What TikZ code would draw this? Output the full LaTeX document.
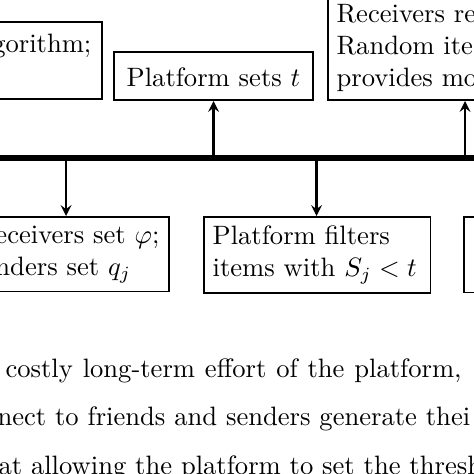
\documentclass[tikz,border=0pt]{standalone}
\usepackage{amsfonts, amssymb, amsmath}
\usepackage{tikz}
\usetikzlibrary{shapes.geometric, arrows}
\tikzstyle{event} = [rectangle, draw = black, semithick, align = left]
\tikzstyle{arrow} = [thick, ->, >=stealth]
\tikzstyle{timeline} = [line width = 2.2pt]
\tikzstyle{body} = [anchor = base west, inner sep = 0pt]

\begin{document}
\begin{tikzpicture}[x = 0.376pt, y = -0.376pt]
  \useasboundingbox (0,0) rectangle (474,474);
  \clip (0,0) rectangle (474,474);

  % time axis
  \coordinate (axis-start) at (-20,158);
  \coordinate (axis-end) at (494,158);
  \coordinate (t-1) at (66,158);
  \coordinate (t-2) at (213.5,158);
  \coordinate (t-3) at (316.5,158);
  \coordinate (t-4) at (465,158);
  \draw [timeline] (axis-start) -- (axis-end);

  % events above the axis
  \node (algorithm) [event, anchor = south east, text width = 38pt,
    text height = 8pt, text depth = 14.3pt] at (103,100) {gorithm;};
  \node (threshold) [event, anchor = south, minimum width = 74.8pt,
    text height = 9.4pt, text depth = 2pt] at (213.5,101) {Platform sets $t$};
  \node (receivers) [event, anchor = south west, text width = 110pt]
    at (327,101) {Receivers re\\ Random ite\\ provides mo};

  % events below the axis
  \node (agents) [event, anchor = north east, text width = 62pt]
    at (170,216) {eceivers set $\varphi$;\\ nders set $q_j$};
  \node (filter) [event, anchor = north west, text width = 78.5pt]
    at (203,216) {Platform filters\\ items with $S_j < t$};
  \node (next) [event, anchor = north west, minimum width = 80pt,
    minimum height = 28.5pt] at (463,216) {};

  \draw [arrow] (t-1) -- (t-1 |- agents.north);
  \draw [arrow] (t-2) -- (t-2 |- threshold.south);
  \draw [arrow] (t-3) -- (t-3 |- filter.north);
  \draw [arrow] (t-4) -- (t-4 |- receivers.south);

  % running text
  \node (line-1) [body] at (5,377)
    {\makebox[171.5pt][s]{costly long-term effort of the platform,}};
  \node (line-2) [body] at (-3,425) {nect to friends and senders generate thei};
  \node (line-3) [body] at (-2,474) {at allowing the platform to set the thresh};
\end{tikzpicture}
\end{document}
